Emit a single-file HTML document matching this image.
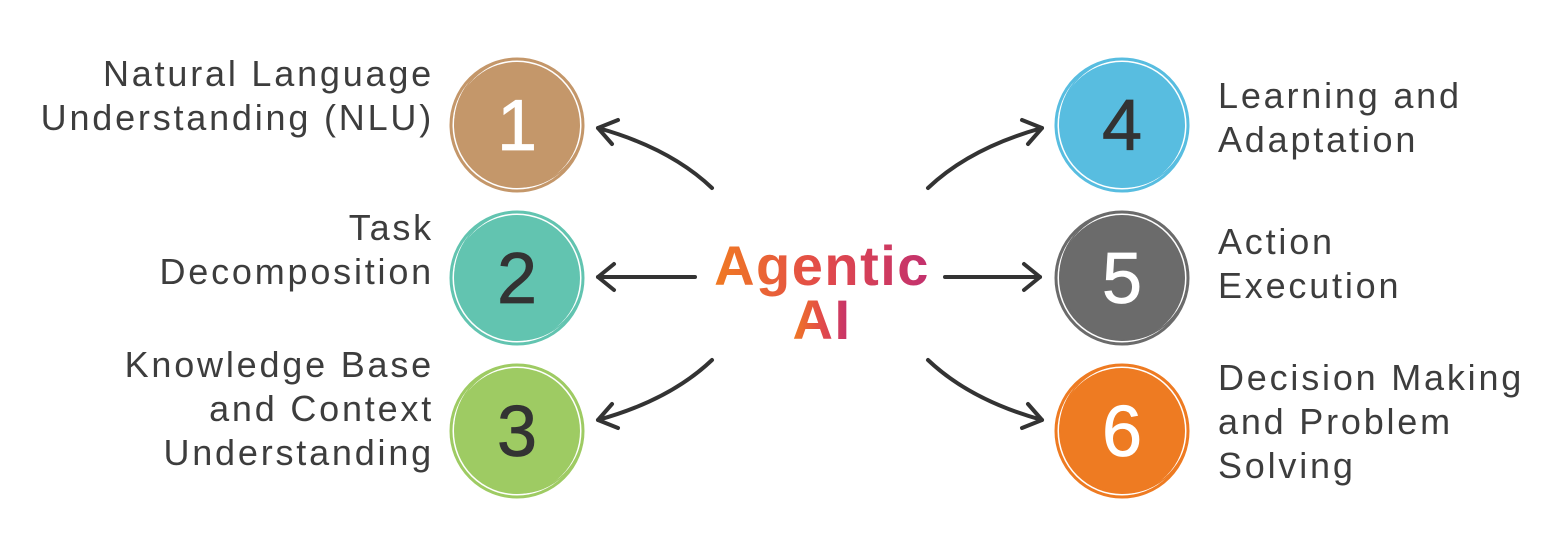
<!DOCTYPE html>
<html><head><meta charset="utf-8"><style>
html,body{margin:0;padding:0;background:#fff;}
body{width:1562px;height:551px;position:relative;overflow:hidden;font-family:"Liberation Sans",sans-serif;}
.l{position:absolute;font-size:36px;line-height:44px;color:#3d3d3d;letter-spacing:2.8px;white-space:nowrap;}
.r{text-align:right;}
</style></head><body>
<svg width="1562" height="551" style="position:absolute;left:0;top:0">
<defs>
<linearGradient id="g" x1="0" x2="1" y1="0" y2="0">
<stop offset="0" stop-color="#f07a22"/><stop offset="0.5" stop-color="#e24a4a"/><stop offset="1" stop-color="#c2306e"/>
</linearGradient>
</defs>
<g stroke-width="3">
<circle cx="517" cy="125" r="63" fill="#c4976a"/><circle cx="517" cy="125" r="66" fill="none" stroke="#c4976a"/><circle cx="519" cy="123" r="64" fill="none" stroke="#c4976a" stroke-width="1.5"/>
<circle cx="517" cy="278" r="63" fill="#62c4b0"/><circle cx="517" cy="278" r="66" fill="none" stroke="#62c4b0"/><circle cx="519" cy="276" r="64" fill="none" stroke="#62c4b0" stroke-width="1.5"/>
<circle cx="517" cy="431" r="63" fill="#9ecb63"/><circle cx="517" cy="431" r="66" fill="none" stroke="#9ecb63"/><circle cx="519" cy="429" r="64" fill="none" stroke="#9ecb63" stroke-width="1.5"/>
<circle cx="1122" cy="125" r="63" fill="#58bde0"/><circle cx="1122" cy="125" r="66" fill="none" stroke="#58bde0"/><circle cx="1124" cy="123" r="64" fill="none" stroke="#58bde0" stroke-width="1.5"/>
<circle cx="1122" cy="278" r="63" fill="#6b6b6b"/><circle cx="1122" cy="278" r="66" fill="none" stroke="#6b6b6b"/><circle cx="1124" cy="276" r="64" fill="none" stroke="#6b6b6b" stroke-width="1.5"/>
<circle cx="1122" cy="431" r="63" fill="#ee7b22"/><circle cx="1122" cy="431" r="66" fill="none" stroke="#ee7b22"/><circle cx="1124" cy="429" r="64" fill="none" stroke="#ee7b22" stroke-width="1.5"/>
</g>
<g font-family="Liberation Sans,sans-serif" font-size="72" text-anchor="middle" stroke-width="0.8">
<text x="517" y="150" fill="#fff" stroke="#fff">1</text>
<text x="517" y="303" fill="#333" stroke="#333">2</text>
<text x="517" y="456" fill="#333" stroke="#333">3</text>
<text x="1122" y="150" fill="#333" stroke="#333">4</text>
<text x="1122" y="303" fill="#fff" stroke="#fff">5</text>
<text x="1122" y="456" fill="#fff" stroke="#fff">6</text>
</g>
<g stroke="#333" stroke-width="4" fill="none" stroke-linecap="round" stroke-linejoin="round">
<path d="M712 188 Q670 148 598 128"/><path d="M618 120 L598 128 L612 144"/>
<path d="M695 277 L598 277"/><path d="M614 264 L598 277 L614 290"/>
<path d="M712 360 Q670 400 598 420"/><path d="M612 404 L598 420 L618 428"/>
<path d="M928 188 Q970 148 1042 128"/><path d="M1022 120 L1042 128 L1028 144"/>
<path d="M945 277 L1040 277"/><path d="M1024 264 L1040 277 L1024 290"/>
<path d="M928 360 Q970 400 1042 420"/><path d="M1028 404 L1042 420 L1022 428"/>
</g>
<g font-family="Liberation Sans,sans-serif" font-weight="bold" font-size="56" text-anchor="middle" fill="url(#g)" letter-spacing="1.5">
<text x="822" y="285">Agentic</text>
<text x="822" y="339">AI</text>
</g>
</svg>
<div class="l r" style="right:1128px;top:52px">Natural Language<br>Understanding (NLU)</div>
<div class="l r" style="right:1128px;top:206px">Task<br>Decomposition</div>
<div class="l r" style="right:1128px;top:343px">Knowledge Base<br>and Context<br>Understanding</div>
<div class="l" style="left:1218px;top:74px">Learning and<br>Adaptation</div>
<div class="l" style="left:1218px;top:220px">Action<br>Execution</div>
<div class="l" style="left:1218px;top:356px">Decision Making<br>and Problem<br>Solving</div>
</body></html>
